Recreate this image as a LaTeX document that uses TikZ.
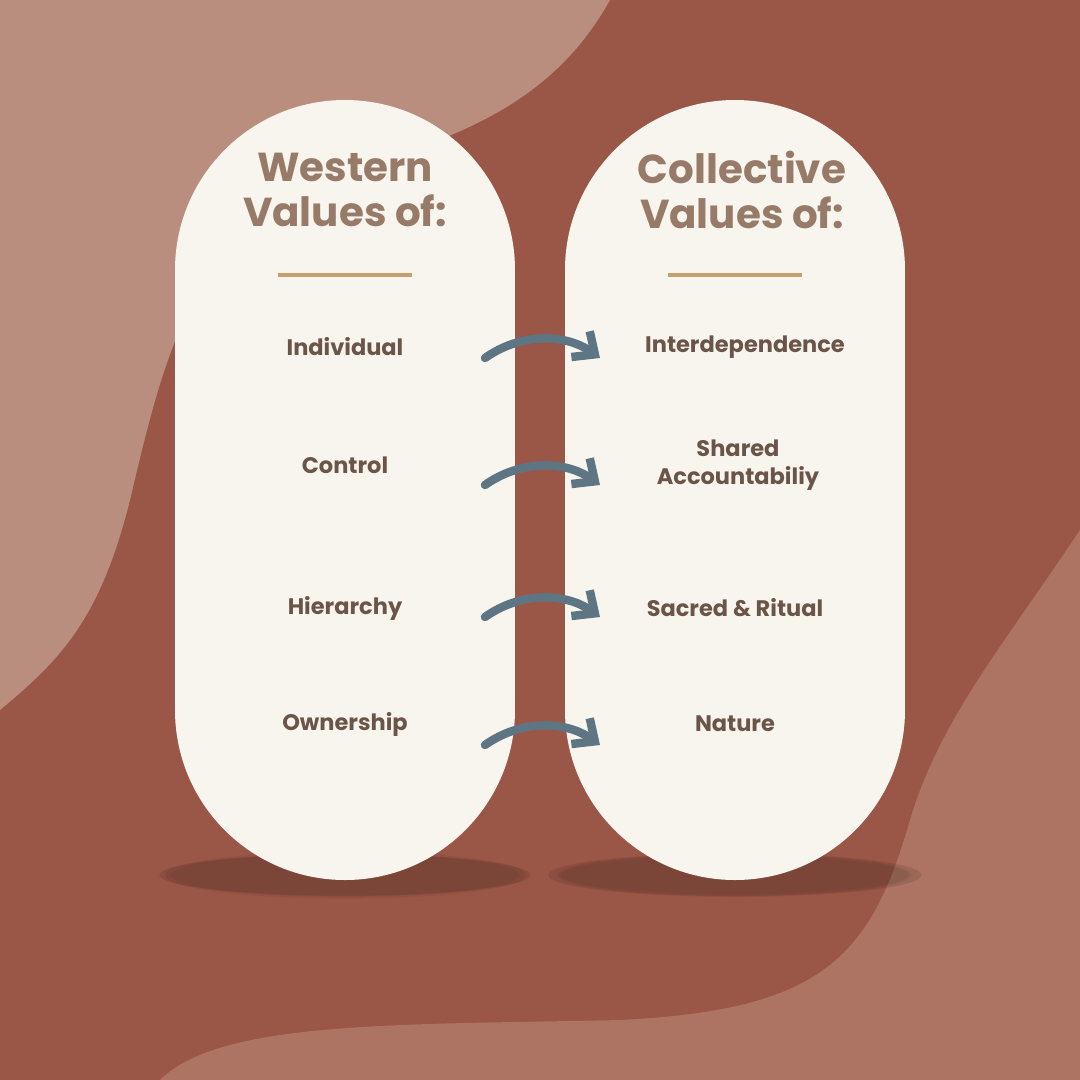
\documentclass[tikz,border=0pt]{standalone}
\usepackage{fontspec}
\setmainfont{Poppins}
\usetikzlibrary{arrows.meta}
\definecolor{bgdark}{HTML}{9A5747}
\definecolor{bglight}{HTML}{B98E7E}
\definecolor{bgmid}{HTML}{AD7463}
\definecolor{pill}{HTML}{F8F5EE}
\definecolor{headcol}{HTML}{977A68}
\definecolor{itemcol}{HTML}{6B5548}
\definecolor{rulecol}{HTML}{C4A06A}
\definecolor{arrowcol}{HTML}{5E7683}
\tikzset{
  head/.style={text=headcol, font=\bfseries\fontsize{11.5}{13}\selectfont, align=center},
  item/.style={text=itemcol, font=\bfseries\fontsize{6.4}{7.8}\selectfont, align=center},
  swoop/.style={draw=arrowcol, line width=2.4pt, line cap=round,
    -{Straight Barb[length=5pt,width=9pt,line width=2.4pt]}},
}
\begin{document}
\begin{tikzpicture}[x=0.1mm,y=-0.1mm]
\useasboundingbox (0,0) rectangle (1080,1080);
\fill[bgdark] (0,0) rectangle (1080,1080);
% light corner top left
\fill[bglight] (0,0) -- (610,0) .. controls (560,90) and (480,130) .. (380,160)
  .. controls (200,210) and (170,330) .. (130,500)
  .. controls (100,620) and (60,660) .. (0,710) -- cycle;
% bottom right
\fill[bgmid] (1080,530) .. controls (1000,650) and (940,720) .. (910,820)
  .. controls (870,960) and (820,1010) .. (620,1020)
  .. controls (400,1025) and (220,1020) .. (160,1080) -- (1080,1080) -- cycle;
% shadows
\foreach \cx in {345,735}
  \foreach \o in {0.05,0.05,0.05,0.05}
    \fill[black,opacity=\o] (\cx,875) ellipse ({150+40*rnd} and {18+6*rnd});
% pills
\foreach \cx in {345,735} {
  \fill[pill] ({\cx-170},270) rectangle ({\cx+170},710);
  \fill[pill] (\cx,270) circle[radius=170];
  \fill[pill] (\cx,710) circle[radius=170];
}
\node[head] (west) at (345,190) {Western\\Values of:};
\node[head] (coll) at (742,190) {Collective\\Values of:};
\draw[rulecol,line width=1.3pt] (278,275) -- (412,275);
\draw[rulecol,line width=1.3pt] (668,275) -- (802,275);
\node[item] (l1) at (345,347) {Individual};
\node[item] (l2) at (345,465) {Control};
\node[item] (l3) at (345,608) {Hierarchy};
\node[item] (l4) at (345,724) {Ownership};
\node[item] (r1) at (745,347) {Interdependence};
\node[item] (r2) at (738,465) {Shared\\Accountabiliy};
\node[item] (r3) at (735,608) {Sacred \& Ritual};
\node[item] (r4) at (735,724) {Nature};
\foreach \y [count=\i] in {358,485,617,745} {
  \coordinate (a\i) at (485,\y);
  \coordinate (b\i) at (600,\y);
  \draw[swoop] (a\i) .. controls (520,{\y-25}) and (565,{\y-25}) .. (b\i);
}
\end{tikzpicture}
\end{document}
